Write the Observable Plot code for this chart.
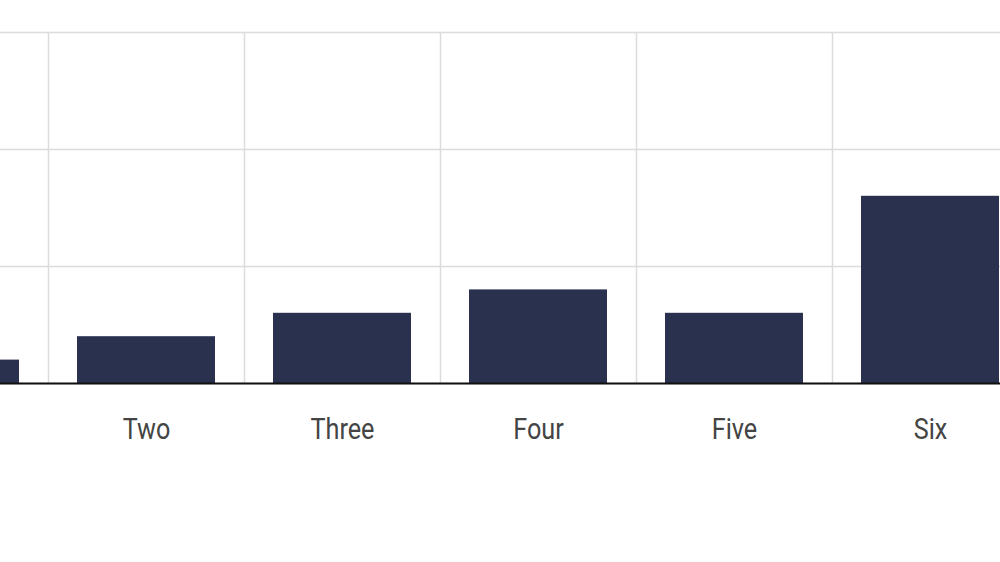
<!DOCTYPE html>
<html>
<head>
<meta charset="utf-8">
<script src="https://cdn.jsdelivr.net/npm/d3@7"></script>
<script src="https://cdn.jsdelivr.net/npm/@observablehq/plot@0.6"></script>
<style>
  html, body { margin: 0; padding: 0; background: #fff; overflow: hidden; }
  #chart svg { overflow: hidden; display: block; }
</style>
</head>
<body>
<div id="chart"></div>
<script>
const categories = ["One", "Two", "Three", "Four", "Five", "Six"];
const values = [1, 2, 3, 4, 3, 8];
const yTicks = [0, 5, 10, 15];

const data = categories.map((c, i) => ({category: c, value: values[i]}));

const plot = Plot.plot({
  width: 1000,
  height: 562,
  marginLeft: 0,
  marginRight: 0,
  marginTop: 32,
  marginBottom: 179,
  style: {fontFamily: "Roboto, 'Liberation Sans', sans-serif", background: "#fff"},
  x: {domain: categories, range: [-148, 1028], paddingInner: 0.296, paddingOuter: 0.148, label: null},
  y: {domain: [0, 15], label: null},
  marks: [
    Plot.gridY(yTicks, {stroke: "#dcdcdc", strokeOpacity: 1, strokeWidth: 1.5}),
    Plot.gridX(categories, {stroke: "#dcdcdc", strokeOpacity: 1, strokeWidth: 1.5, dx: -98}),
    Plot.barY(data, {x: "category", y: "value", fill: "#29314f", inset: 0}),
    Plot.ruleY([0], {stroke: "#111", strokeWidth: 2}),
    Plot.axisX({tickSize: 0, tickPadding: 34, fontSize: 30, color: "#444", label: null, ariaLabel: "x-axis"}),
    Plot.axisY({ticks: [], label: null})
  ]
});
document.getElementById("chart").appendChild(plot);

// Condense the tick labels horizontally to match the narrow lettering
plot.querySelectorAll("g[aria-label='x-axis tick label'] text, g[aria-label='x-axis'] text").forEach(t => {
  const w = t.getComputedTextLength();
  t.setAttribute("textLength", (w * 0.84).toFixed(1));
  t.setAttribute("lengthAdjust", "spacingAndGlyphs");
});
</script>
</body>
</html>
